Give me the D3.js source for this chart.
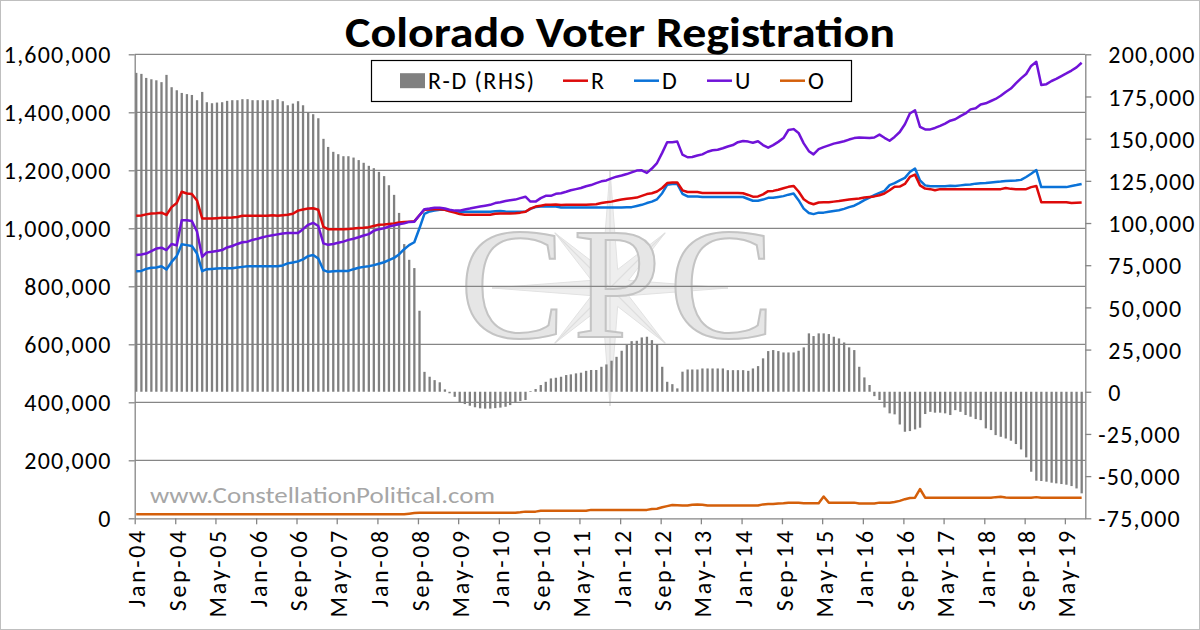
<!DOCTYPE html>
<html><head><meta charset="utf-8">
<script src="https://cdn.jsdelivr.net/npm/d3@7"></script>
<style>
body{margin:0;background:#fff}
svg{display:block}
text{font-family:Carlito,Lato,"Liberation Sans",sans-serif}
</style>
</head><body>
<svg id="chart" width="1200" height="630"></svg>
<script>
// ---------- DATA (values in thousands of voters) ----------
const firstMonth = new Date(2004, 0, 1);
const axisEnd = new Date(2019, 8, 1);
const tickLabels = ["Jan-04","Sep-04","May-05","Jan-06","Sep-06","May-07","Jan-08","Sep-08","May-09","Jan-10","Sep-10","May-11","Jan-12","Sep-12","May-13","Jan-14","Sep-14","May-15","Jan-16","Sep-16","May-17","Jan-18","Sep-18","May-19"];
const leftTicks = [0,200,400,600,800,1000,1200,1400,1600];
const rightTicks = [-75,-50,-25,0,25,50,75,100,125,150,175,200];
const seriesNames = ["R-D (RHS)","R","D","U","O"];

const rdDiff = [189.0,188.4,186.0,185.2,184.6,183.5,187.8,180.5,178.7,177.1,
176.4,175.9,172.8,177.7,171.6,171.0,171.4,171.6,172.4,172.8,
172.8,173.4,173.4,172.8,172.8,172.8,172.8,172.8,173.4,172.2,
169.8,170.8,172.2,169.8,165.5,164.5,162.1,149.9,145.1,142.2,
140.8,139.6,139.6,138.8,137.3,135.7,133.9,132.5,130.3,127.8,
122.4,116.7,106.0,87.5,78.2,73.3,48.0,11.8,8.9,6.9,
5.6,1.4,-0.9,-3.0,-6.3,-7.3,-8.3,-9.2,-9.8,-10.0,
-10.0,-9.7,-9.4,-8.9,-7.9,-6.3,-5.5,-4.9,0.4,1.6,
4.0,5.9,7.9,8.3,8.9,9.9,10.3,10.9,11.3,12.4,
12.9,12.9,14.8,16.2,18.4,20.7,24.3,27.7,30.0,30.2,
32.2,32.6,30.6,28.0,14.8,5.9,4.5,2.0,11.9,13.2,
13.2,13.2,13.8,13.8,13.8,13.8,13.8,12.8,12.8,12.8,
12.8,12.4,13.8,15.2,19.8,24.1,24.7,24.1,23.3,23.3,
23.3,24.3,26.3,34.6,33.0,34.6,34.6,34.2,32.6,31.6,
29.2,26.3,24.7,14.8,8.5,4.0,-2.6,-4.9,-9.3,-12.8,
-13.4,-19.4,-23.7,-23.3,-22.3,-21.3,-13.2,-11.9,-12.4,-12.4,
-12.8,-13.8,-10.9,-11.9,-13.8,-14.8,-16.2,-16.8,-21.7,-22.7,
-25.7,-26.7,-27.7,-29.0,-31.0,-34.2,-38.9,-47.4,-52.7,-52.9,
-53.3,-53.9,-54.3,-54.7,-55.1,-55.9,-57.3,-60.2];

const rep = [1043,1044,1048,1051,1052,1054,1046,1073,1087,1126,
1120,1118,1096,1034,1034,1034,1035,1036,1036,1037,
1039,1043,1043,1043,1043,1043,1043,1045,1043,1045,
1047,1050,1061,1065,1068,1069,1064,1005,997,997,
997,997,998,999,1001,1002,1004,1008,1012,1013,
1015,1017,1020,1022,1023,1024,1045,1064,1065,1066,
1066,1064,1059,1054,1049,1047,1047,1047,1047,1047,
1047,1050,1051,1051,1051,1052,1054,1057,1068,1075,
1078,1081,1081,1082,1080,1081,1081,1081,1081,1081,
1082,1083,1087,1090,1092,1096,1099,1102,1104,1106,
1112,1118,1121,1127,1139,1156,1158,1158,1131,1125,
1125,1125,1122,1122,1122,1122,1122,1122,1122,1122,
1121,1115,1109,1110,1117,1128,1129,1133,1138,1143,
1146,1127,1100,1088,1083,1089,1090,1090,1092,1094,
1097,1099,1101,1103,1106,1108,1110,1114,1120,1131,
1143,1144,1153,1177,1185,1148,1137,1135,1131,1135,
1135,1135,1135,1135,1135,1135,1135,1135,1135,1135,
1135,1135,1139,1136,1135,1135,1135,1142,1146,1090,
1090,1090,1090,1090,1090,1087,1088,1089];

const dem = [852,853,860,864,865,869,858,884,904,945,
942,939,913,852,859,860,861,862,862,862,
865,867,869,869,869,869,869,869,869,872,
879,882,886,893,904,908,896,856,850,852,
853,853,853,859,864,867,869,873,878,883,
890,898,910,928,942,952,1000,1050,1058,1061,
1064,1064,1061,1059,1057,1057,1057,1057,1057,1057,
1057,1059,1060,1058,1057,1057,1057,1057,1067,1073,
1075,1075,1075,1075,1072,1072,1072,1072,1072,1072,
1072,1072,1072,1072,1072,1072,1072,1073,1073,1077,
1081,1087,1092,1100,1121,1150,1153,1153,1119,1110,
1110,1110,1108,1108,1108,1108,1108,1108,1108,1108,
1108,1101,1095,1095,1099,1105,1105,1108,1111,1116,
1120,1097,1068,1053,1049,1054,1054,1057,1060,1062,
1067,1073,1078,1087,1097,1106,1114,1122,1129,1149,
1156,1165,1174,1194,1206,1165,1148,1145,1145,1145,
1145,1147,1146,1148,1150,1151,1154,1155,1156,1158,
1160,1161,1163,1164,1165,1167,1177,1188,1201,1142,
1142,1142,1142,1142,1142,1146,1149,1153];

const unaff = [908,910,913,921,930,933,925,946,941,1028,
1028,1025,989,902,917,919,922,925,934,939,
946,952,954,960,964,969,973,976,979,982,
984,984,984,997,1012,1019,1008,948,943,946,
950,954,960,964,969,975,980,991,997,1000,
1006,1010,1014,1017,1022,1023,1045,1066,1068,1071,
1071,1068,1064,1061,1061,1065,1068,1072,1075,1078,
1081,1087,1090,1094,1097,1099,1104,1109,1092,1092,
1104,1112,1112,1119,1121,1126,1131,1135,1139,1145,
1149,1156,1162,1165,1172,1178,1182,1187,1193,1199,
1200,1191,1206,1225,1260,1297,1297,1299,1254,1245,
1246,1251,1255,1264,1269,1271,1276,1282,1287,1297,
1301,1299,1295,1300,1287,1278,1287,1298,1311,1339,
1342,1329,1293,1266,1255,1273,1280,1286,1292,1296,
1300,1306,1311,1313,1312,1311,1313,1323,1312,1302,
1315,1332,1359,1396,1407,1350,1341,1341,1346,1353,
1361,1371,1376,1387,1396,1410,1414,1427,1431,1439,
1446,1457,1470,1482,1500,1517,1532,1560,1574,1494,
1497,1508,1515,1525,1534,1544,1555,1571];

const other = [14,14,14,14,14,14,14,14,14,14,
14,14,14,14,14,14,14,14,14,14,
14,14,14,14,14,14,14,14,14,14,
14,14,14,14,14,14,14,14,14,14,
14,14,14,14,14,14,14,14,14,14,
14,14,14,14,16,18,19.5,19.5,19.5,19.5,
19.5,19.5,19.5,19.5,19.5,19.5,19.5,19.5,19.5,19.5,
19.5,19.5,19.5,19.5,19.5,19.5,21,23,23,23,
26,26,26,26,26,26,26,26,26,26,
29,29,29,29,29,29,29,29,29,29,
29,29,32,33,38,42,46,45,44,44,
47,48,47,44,44,44,44,44,44,44,
44,44,44,44,48,49,49,51,52,54,
54,54,52,52,52,52,75,54,54,54,
54,54,54,51,51,51,51,54,54,54,
56,60,66,70,71,101,71,71,71,71,
71,71,71,71,71,71,71,71,71,71,
73,74,72,71,71,71,71,71,73,71,
71,71,71,71,71,71,71,71];

// ---------- SETUP ----------
const months = d3.timeMonth.range(firstMonth, axisEnd);      // one entry per month
const dates = months.map(m => d3.timeDay.offset(m, 9));       // data sits at ~10th of month
const parseTick = d3.timeParse("%b-%y");
const tickDates = tickLabels.map(parseTick);

const svg = d3.select("#chart");
const W = 1200, H = 630;
const L = 134.7, Rt = 1085.3, T = 54.3, B = 518.3;
const gridColor = "#868686";
const colR = "#dd0a0a", colD = "#0a72d8", colU = "#7013d8", colO = "#d45f0a", colBar = "#808080";

const x = d3.scaleTime().domain([firstMonth, axisEnd]).range([L, Rt]);
const yL = d3.scaleLinear().domain([0, 1600]).range([B, T]);
const yR = d3.scaleLinear().domain([-75, 200]).range([B, T]);

svg.append("rect").attr("width", W).attr("height", H).attr("fill", "#fff");
svg.append("rect").attr("x", 0.5).attr("y", 0.5).attr("width", W-1).attr("height", H-1)
  .attr("fill", "none").attr("stroke", "#bfbfbf");

// ---------- WATERMARK ----------
const wm = svg.append("g");
const cx = 610, cy = 288;
const starPts = [];
for (let k = 0; k < 16; k++) {
  const a = -Math.PI/2 + k * Math.PI/8;
  const r = (k % 2 === 1) ? 20 : (k % 4 === 0 ? 118 : 78);
  starPts.push([cx + r*Math.cos(a), cy + r*Math.sin(a)]);
}
wm.append("polygon").attr("points", starPts.map(p => p.join(",")).join(" "))
  .attr("fill", "#eeeeee").attr("stroke", "#e2e2e2").attr("stroke-width", 1);
for (let k = 0; k < 16; k += 2) {
  wm.append("line").attr("x1", cx).attr("y1", cy)
    .attr("x2", starPts[k][0]).attr("y2", starPts[k][1])
    .attr("stroke", "#dedede").attr("stroke-width", 1.2);
}
wm.append("text").attr("x", 621).attr("y", 337).attr("text-anchor", "middle")
  .style("font-family", "'Liberation Serif','DejaVu Serif',serif")
  .style("font-size", "158px").style("letter-spacing", "8px")
  .attr("fill", "#e6e6e6").attr("stroke", "#c4c4c4").attr("stroke-width", 2)
  .text("CPC");

// ---------- GRID ----------
svg.append("g").selectAll("line").data(leftTicks.filter(d => d > 0)).join("line")
  .attr("x1", L).attr("x2", Rt).attr("y1", d => yL(d)).attr("y2", d => yL(d))
  .attr("stroke", gridColor).attr("stroke-width", 1.3);

// ---------- BARS ----------
svg.append("g").selectAll("rect").data(rdDiff).join("rect")
  .attr("x", (d, i) => x(dates[i]) - 1.1)
  .attr("width", 2.3)
  .attr("y", d => Math.min(yR(d), yR(0)))
  .attr("height", d => Math.abs(yR(d) - yR(0)))
  .attr("fill", colBar);

// ---------- LINES ----------
const line = d3.line().x((d, i) => x(dates[i])).y(d => yL(d));
[[other, colO], [dem, colD], [rep, colR], [unaff, colU]].forEach(([arr, c]) => {
  svg.append("path").datum(arr).attr("d", line).attr("fill", "none")
    .attr("stroke", c).attr("stroke-width", 2.5).attr("stroke-linejoin", "round");
});

// ---------- AXES ----------
const fmt = d => d3.format(",")(d).replace("\u2212", "-");
const axStyle = g => {
  g.selectAll(".domain").attr("stroke", gridColor).attr("stroke-width", 1.3);
  g.selectAll(".tick line").attr("stroke", gridColor).attr("stroke-width", 1.3);
  g.selectAll("text").attr("fill", "#000").style("font-size", "24px")
    .style("letter-spacing", "1.2px")
    .style("font-family", "Carlito,Lato,sans-serif");
};
svg.append("g").attr("transform", `translate(${L},0)`)
  .call(d3.axisLeft(yL).tickValues(leftTicks).tickFormat(d => fmt(d*1000)).tickSize(6).tickSizeOuter(0).tickPadding(17))
  .call(axStyle).call(g => g.selectAll("text").attr("dy", "0.36em"));

svg.append("g").attr("transform", `translate(${Rt},0)`)
  .call(d3.axisRight(yR).tickValues(rightTicks).tickFormat(d => fmt(d*1000)).tickSize(6).tickSizeOuter(0).tickPadding(18))
  .call(axStyle)
  .call(g => g.selectAll("text").attr("dy", "0.36em").attr("x", d => d < 0 ? 13 : 23));

svg.append("g").attr("transform", `translate(0,${B})`)
  .call(d3.axisBottom(x).tickValues(tickDates).tickFormat(d3.timeFormat("%b-%y")).tickSize(6).tickSizeOuter(0))
  .call(axStyle)
  .call(g => g.selectAll("text")
    .attr("transform", "rotate(-90)").attr("x", -10).attr("y", 0).attr("dy", "0.42em")
    .style("text-anchor", "end").style("letter-spacing", "2.6px"));

// ---------- LEGEND ----------
const lg = svg.append("g");
lg.append("rect").attr("x", 371.5).attr("y", 60.5).attr("width", 480).attr("height", 41)
  .attr("fill", "#fff").attr("stroke", "#000").attr("stroke-width", 1.2);
const legY = 80.7;
const legItems = [
  {name: seriesNames[0], type: "bar", c: colBar, sx: 400, tx: 428},
  {name: seriesNames[1], type: "line", c: colR, sx: 563, tx: 591},
  {name: seriesNames[2], type: "line", c: colD, sx: 634, tx: 662},
  {name: seriesNames[3], type: "line", c: colU, sx: 707, tx: 735},
  {name: seriesNames[4], type: "line", c: colO, sx: 780, tx: 808}
];
legItems.forEach(it => {
  if (it.type === "bar") {
    lg.append("rect").attr("x", it.sx).attr("y", legY - 7.5).attr("width", 25).attr("height", 15).attr("fill", it.c);
  } else {
    lg.append("line").attr("x1", it.sx).attr("x2", it.sx + 25).attr("y1", legY).attr("y2", legY)
      .attr("stroke", it.c).attr("stroke-width", 2.5);
  }
  lg.append("text").attr("x", it.tx).attr("y", legY).attr("dy", "0.36em")
    .style("font-size", "24px").style("letter-spacing", "1.5px").attr("fill", "#000").text(it.name);
});

// ---------- TITLE & CREDIT ----------
svg.append("text").attr("x", 620).attr("y", 47).attr("text-anchor", "middle")
  .style("font-size", "42px").style("font-weight", "bold").attr("fill", "#000")
  .attr("textLength", 550).attr("lengthAdjust", "spacingAndGlyphs")
  .text("Colorado Voter Registration");

svg.append("text").attr("x", 150).attr("y", 503)
  .style("font-size", "22px").attr("fill", "#a6a6a6")
  .attr("textLength", 345).attr("lengthAdjust", "spacingAndGlyphs")
  .text("www.ConstellationPolitical.com");
</script>
</body></html>
